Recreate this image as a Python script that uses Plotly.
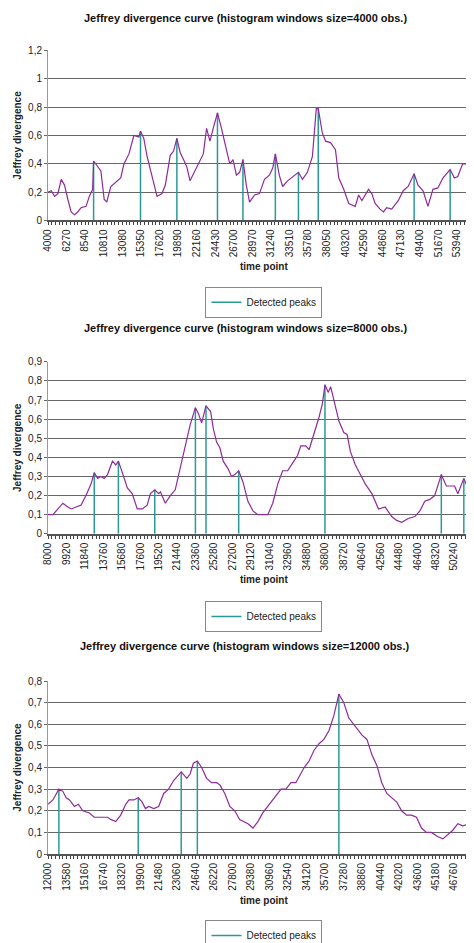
import plotly.graph_objects as go

# ---- Chart 1 (window 4000) ----
x1 = [4000,4400,4810,5210,5610,6020,6420,6830,7230,7630,8040,8640,9050,9450,9570,10050,10460,10860,11180,11670,12270,12880,13280,13890,14490,15100,15300,15700,16110,16710,17320,17920,18330,18930,19340,19740,20140,20550,20950,21350,21760,22360,22970,23370,23780,24180,24700,25190,25790,26200,26600,27010,27410,27810,28220,28620,29230,29830,30440,31040,31450,31770,32250,32660,33260,33860,34590,35080,35680,36290,36770,37010,37500,37900,38510,39110,39520,40120,40730,41530,41940,42340,42950,43150,43550,43960,44560,44970,45370,45980,46780,47390,47990,48720,49200,49810,50410,51020,51620,52230,53120,53640,54050,54650,55060,55660,56070,56310]
y1 = [0.20,0.21,0.17,0.19,0.29,0.25,0.15,0.06,0.04,0.06,0.09,0.10,0.17,0.22,0.42,0.38,0.35,0.15,0.13,0.24,0.27,0.30,0.40,0.47,0.60,0.59,0.63,0.58,0.45,0.30,0.17,0.19,0.25,0.46,0.49,0.58,0.48,0.43,0.38,0.28,0.33,0.40,0.47,0.65,0.56,0.65,0.76,0.65,0.50,0.40,0.43,0.32,0.34,0.43,0.25,0.13,0.18,0.19,0.29,0.32,0.37,0.47,0.32,0.24,0.28,0.31,0.34,0.29,0.34,0.45,0.79,0.79,0.62,0.56,0.55,0.50,0.30,0.22,0.12,0.10,0.18,0.14,0.20,0.22,0.19,0.12,0.08,0.06,0.09,0.08,0.14,0.21,0.24,0.33,0.25,0.21,0.10,0.22,0.23,0.30,0.36,0.30,0.31,0.40,0.40,0.50,0.70,0.97]
peaks1_x = [9570,15300,19740,24700,27810,31770,34590,37010,48720,53120,56310]
peaks1_y = [0.42,0.63,0.58,0.76,0.43,0.47,0.34,0.79,0.33,0.36,1.02]
ticks1 = list(range(4000, 56211, 2270))

# ---- Chart 2 (window 8000) ----
x2 = [8000,8520,9030,9550,10060,10410,10920,11440,11950,12470,12810,13160,13500,13840,14190,14700,15050,15320,15730,16250,16760,17280,17800,18310,18650,19100,19510,19690,20200,20720,21230,21750,22260,22780,23330,23640,23980,24430,24910,25190,25530,25870,26220,26730,27080,27420,27830,28280,28790,29310,29820,30510,30860,31370,31890,32400,32920,33430,33950,34290,34810,35150,35670,36180,36530,36800,37150,37390,37730,38250,38760,39100,39450,39960,40480,41000,41680,42370,43060,43740,44260,44780,45460,46150,46670,47180,47700,48210,48900,49420,50280,50620,51240,51650,52170,52610]
y2 = [0.10,0.10,0.13,0.16,0.14,0.13,0.14,0.15,0.20,0.26,0.32,0.29,0.30,0.29,0.31,0.38,0.36,0.38,0.32,0.24,0.21,0.13,0.13,0.15,0.21,0.23,0.21,0.22,0.16,0.20,0.23,0.34,0.45,0.57,0.66,0.63,0.58,0.67,0.64,0.55,0.48,0.45,0.38,0.34,0.30,0.31,0.33,0.27,0.17,0.12,0.10,0.10,0.10,0.16,0.26,0.33,0.33,0.37,0.41,0.46,0.46,0.44,0.52,0.61,0.68,0.78,0.74,0.77,0.70,0.59,0.53,0.52,0.43,0.36,0.31,0.26,0.21,0.13,0.14,0.09,0.07,0.06,0.08,0.09,0.12,0.17,0.18,0.20,0.31,0.25,0.25,0.21,0.29,0.24,0.21,0.19]
peaks2_x = [12810,15320,19100,23330,24430,27830,36800,48900,51240]
peaks2_y = [0.32,0.38,0.23,0.66,0.67,0.33,0.78,0.31,0.29]
ticks2 = list(range(8000, 52161, 1920))

# ---- Chart 3 (window 12000) ----
x3 = [12000,12420,12930,13270,13560,13840,14260,14600,14970,15540,15960,16520,17090,17370,17800,18220,18650,18930,19350,19720,20060,20340,20630,21050,21470,21900,22320,22750,23110,23400,23880,24160,24440,24780,25150,25570,26000,26420,26710,27130,27560,27980,28400,28830,29110,29540,29960,30380,30810,31230,31660,31940,32360,32790,33210,33490,33920,34340,34770,35190,35610,36040,36460,36890,37310,37730,38160,38440,38870,39290,39710,40140,40560,40990,41410,41840,42260,42680,43110,43530,43960,44380,44800,45370,45790,46220,46640,47070,47490,48060,48710]
y3 = [0.23,0.25,0.30,0.29,0.26,0.25,0.22,0.23,0.20,0.19,0.17,0.17,0.17,0.16,0.15,0.18,0.23,0.25,0.25,0.26,0.24,0.21,0.22,0.21,0.22,0.28,0.30,0.34,0.36,0.38,0.35,0.37,0.42,0.43,0.40,0.35,0.33,0.33,0.32,0.28,0.22,0.20,0.16,0.15,0.14,0.12,0.15,0.19,0.22,0.25,0.28,0.30,0.30,0.33,0.33,0.36,0.40,0.43,0.48,0.51,0.53,0.57,0.64,0.74,0.70,0.63,0.60,0.58,0.55,0.53,0.46,0.41,0.33,0.28,0.26,0.24,0.20,0.18,0.18,0.17,0.12,0.10,0.10,0.08,0.07,0.09,0.11,0.14,0.13,0.14,0.17]
peaks3_x = [12930,19720,23400,24780,36890]
peaks3_y = [0.30,0.26,0.38,0.43,0.74]
ticks3 = list(range(12000, 48341, 1580))

titles = ["Jeffrey divergence curve (histogram windows size=4000 obs.)",
          "Jeffrey divergence curve (histogram windows size=8000 obs.)",
          "Jeffrey divergence curve (histogram windows size=12000 obs.)"]

CURVE = "#8e2a9a"
PEAK = "#2a9a96"
H = 943

def py(px):
    return 1 - px / H

panels = [
    dict(x=x1, y=y1, px=peaks1_x, pyv=peaks1_y, ticks=ticks1, xr=[4000, 56400], yr=[0, 1.2], dt=0.2,
         top=43, bot=215, title_y=10, xt_y=262, leg=(282, 300), step=2270),
    dict(x=x2, y=y2, px=peaks2_x, pyv=peaks2_y, ticks=ticks2, xr=[8000, 52610], yr=[0, 0.9], dt=0.1,
         top=358, bot=532, title_y=324, xt_y=578, leg=(600, 618), step=1920),
    dict(x=x3, y=y3, px=peaks3_x, pyv=peaks3_y, ticks=ticks3, xr=[12000, 48710], yr=[0, 0.8], dt=0.1,
         top=681, bot=856, title_y=646, xt_y=903, leg=(923, 941), step=1580),
]

fig = go.Figure()
font = "Liberation Sans, Arial, sans-serif"
for i, p in enumerate(panels, start=1):
    xa = "x" if i == 1 else f"x{i}"
    ya = "y" if i == 1 else f"y{i}"
    lg = "legend" if i == 1 else f"legend{i}"
    vx, vy = [], []
    for a, b in zip(p["px"], p["pyv"]):
        vx += [a, a, None]
        vy += [0, b, None]
    fig.add_trace(go.Scatter(x=vx, y=vy, mode="lines", line=dict(color=PEAK, width=1.5),
                             name="Detected peaks", xaxis=xa, yaxis=ya, legend=lg, showlegend=True))
    fig.add_trace(go.Scatter(x=p["x"], y=p["y"], mode="lines", line=dict(color=CURVE, width=1.2),
                             xaxis=xa, yaxis=ya, showlegend=False, hoverinfo="skip"))
    dom = [py(p["bot"]), py(p["top"])]
    xk = "xaxis" if i == 1 else f"xaxis{i}"
    yk = "yaxis" if i == 1 else f"yaxis{i}"
    fig.layout[xk] = dict(domain=[40/474, 469/474], range=p["xr"], anchor=ya, automargin=False,
                          tickvals=p["ticks"], ticktext=[str(t) for t in p["ticks"]],
                          tickangle=-90, tickfont=dict(size=10, family=font, color="#222"),
                          showgrid=False, zeroline=False, showline=True, linecolor="#555", linewidth=2,
                          ticks="outside", ticklen=3, tickcolor="#444", mirror=False,
                          minor=dict(dtick=p["step"]/5, tick0=p["xr"][0], ticks="outside", ticklen=3, tickcolor="#444"))
    fig.layout[yk] = dict(domain=dom, range=p["yr"], anchor=xa, dtick=p["dt"], automargin=False,
                          tickfont=dict(size=10, family=font, color="#222"),
                          showgrid=True, gridcolor="#666", gridwidth=1, zeroline=False,
                          showline=True, linecolor="#999", linewidth=1, mirror=True,
                          ticks="outside", ticklen=3, tickcolor="#666",
                          title=dict(text="<b>Jeffrey divergence</b>", font=dict(size=10, family=font, color="#222"), standoff=4))
    fig.add_annotation(text=f"<b>{titles[i-1]}</b>", x=0.5, y=py(p["title_y"]), xref="paper", yref="paper",
                       showarrow=False, font=dict(size=11, family=font, color="#111"), yanchor="middle")
    fig.add_annotation(text="<b>time point</b>", x=0.54, y=py(p["xt_y"]), xref="paper", yref="paper",
                       showarrow=False, font=dict(size=10, family=font, color="#222"), yanchor="middle")
    fig.layout[lg] = dict(x=0.54, xanchor="center", y=py(p["leg"][0]), yanchor="top",
                          bordercolor="#888", borderwidth=1, bgcolor="white",
                          font=dict(size=10, family=font, color="#222"), itemwidth=30,
                          tracegroupgap=0)

fig.update_layout(width=474, height=943, margin=dict(l=0, r=0, t=0, b=0),
                  paper_bgcolor="white", plot_bgcolor="white", separators=",.")
fig.write_html("out.html")
